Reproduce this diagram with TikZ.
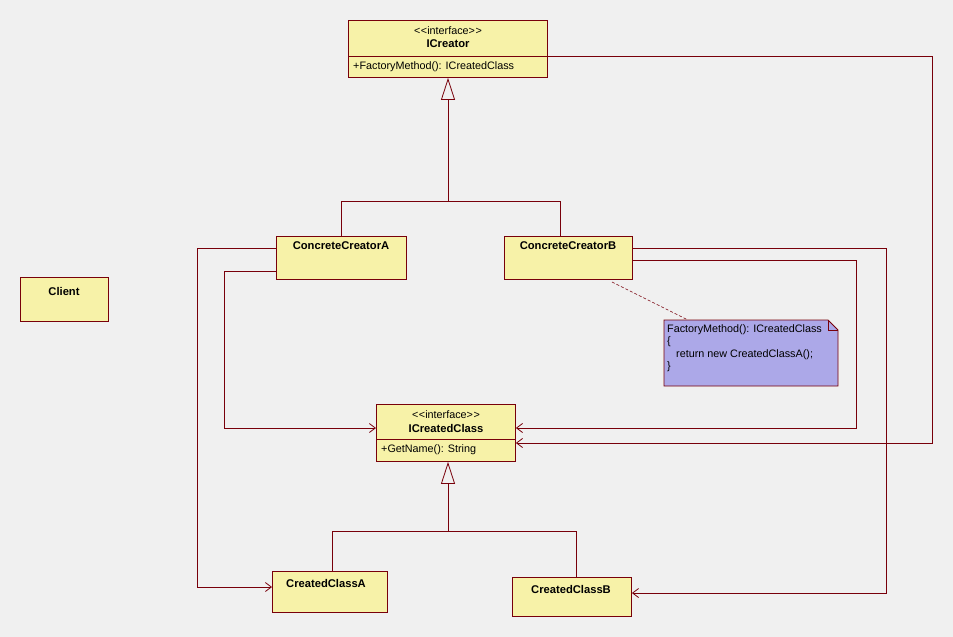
\documentclass[tikz,border=0pt]{standalone}
\usepackage{fontspec}
\setmainfont{Liberation Sans}[Ligatures=NoCommon]
\usetikzlibrary{arrows.meta}
\definecolor{bg}{RGB}{240,240,240}
\definecolor{cls}{RGB}{247,242,168}
\definecolor{ln}{RGB}{120,0,10}
\definecolor{notec}{RGB}{172,168,232}
\newcommand{\lt}{{<}\kern0.5pt{<}}
\newcommand{\gtt}{{>}\kern0.5pt{>}}
\begin{document}
\begin{tikzpicture}[x=1pt,y=-1pt,
  box/.style={draw=ln,fill=cls,line width=0.9pt,anchor=north west,inner sep=0pt},
  txt/.style={font=\fontsize{10.8}{12.5}\selectfont,inner sep=0pt},
  btxt/.style={font=\fontsize{11.2}{12.5}\selectfont\bfseries,inner sep=0pt},
  con/.style={draw=ln,line width=0.8pt},
  dep/.style={con,-{Straight Barb[length=6pt,width=9pt]}},
  gen/.style={con,-{Triangle[open,length=22pt,width=14pt,fill=bg]}}]
\useasboundingbox[fill=bg] (0,0) rectangle (953,637);
% classes
\node[box,minimum width=199pt,minimum height=57pt] (icr) at (348,20) {};
\draw[con] (348,56) -- (547,56);
\node[txt] (icrs) at (448,31) {\lt interface\gtt};
\node[btxt] (icrn) at (448,44) {ICreator};
\node[txt,anchor=west] (icrm) at (353,67) {+FactoryMethod(): ICreatedClass};

\node[box,minimum width=130pt,minimum height=43pt] (cca) at (276,236) {};
\node[btxt] (ccat) at (341,246) {ConcreteCreatorA};
\node[box,minimum width=128pt,minimum height=43pt] (ccb) at (504,236) {};
\node[btxt] (ccbt) at (568,246) {ConcreteCreatorB};
\node[box,minimum width=88pt,minimum height=44pt] (cl) at (20,277) {};
\node[btxt] (clt) at (64,291) {Client};

\node[box,minimum width=139pt,minimum height=57pt] (icc) at (376,404) {};
\draw[con] (376,439) -- (515,439);
\node[txt] (iccs) at (446,415) {\lt interface\gtt};
\node[btxt] (iccn) at (446,428) {ICreatedClass};
\node[txt,anchor=west] (iccm) at (381,450) {+GetName(): String};

\node[box,minimum width=115pt,minimum height=41pt] (ca) at (272,571) {};
\node[btxt] (cat) at (326,583) {CreatedClassA};
\node[box,minimum width=119pt,minimum height=39pt] (cb) at (512,577) {};
\node[btxt] (cbt) at (571,589) {CreatedClassB};

% note
\path[draw=ln,fill=notec,line width=0.8pt] (664,320) -- (828,320) -- (838,330) -- (838,386) -- (664,386) -- cycle;
\draw[ln,line width=0.6pt] (828,320) -- (828,330) -- (838,330);
\node[txt,anchor=north west,align=left] (note) at (667,324) {FactoryMethod(): ICreatedClass\\\{\\\ \ \ return new CreatedClassA();\\\}};
\coordinate (nt) at (688,320);
\draw[con,densely dashed,line width=0.6pt] (612,282) -- (nt);

% generalizations
\draw[gen] (448,201) -- (icr.south -| 448,0);
\draw[con] (cca.north -| 341,0) -- (341,201) -- (560,201) -- (ccb.north -| 560,0);
\draw[gen] (448,531) -- (icc.south -| 448,0);
\draw[con] (ca.north -| 332,0) -- (332,531) -- (576,531) -- (cb.north -| 576,0);

% dependencies
\draw[dep] (icr.east |- 0,56) -- (932,56) -- (932,443) -- (icc.east |- 0,443);
\draw[dep] (cca.west |- 0,248) -- (197,248) -- (197,587) -- (ca.west |- 0,587);
\draw[dep] (cca.west |- 0,271) -- (224,271) -- (224,428) -- (icc.west |- 0,428);
\draw[dep] (ccb.east |- 0,248) -- (886,248) -- (886,593) -- (cb.east |- 0,593);
\draw[dep] (ccb.east |- 0,260) -- (856,260) -- (856,428) -- (icc.east |- 0,428);
\end{tikzpicture}
\end{document}
